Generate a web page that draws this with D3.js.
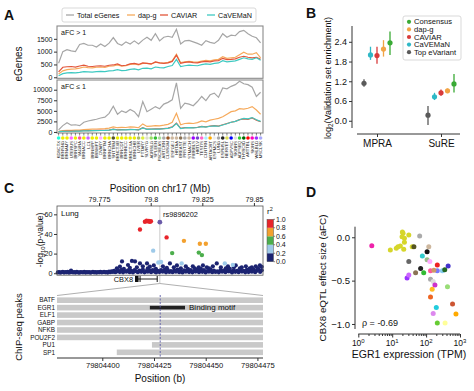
<!DOCTYPE html>
<html><head><meta charset="utf-8">
<script src="https://cdn.jsdelivr.net/npm/d3@7"></script>
<style>body{margin:0;background:#fff}</style>
</head><body>
<svg id="c" width="474" height="391"></svg>
<script>
// ---------------- DATA ----------------
// Panel A
const tissues = ["KDNCTX","BRNSNG","BRNAMY","UTERUS","BRNSPC","VAGINA","BRNACC","LCL","BRNHPP","BRNHPT","OVARY","BRNPTM","BRNCHA","SNTTRM","BRNCTXB","BRNCDT","BRNNCC","BRNCTXA","BRNCHB","LIVER","PTTARY","SLVRYG","ADRNLG","SPLEEN","PNCREAS","ARTCRN","CLNSGM","ESPGEJ","HRTAA","BREAST","PRSTTE","STMACH","FIBRBLS","HRTLV","TESTIS","CLNTRN","ARTAORT","ESPMCS","LUNG","ESPMSL","NERVET","ADPVSC","SKINNS","ADPSBQ","THYROID","ARTTBL","SKINS","WHLBLD","MSCLSK"];
const tissueColors = ["#22FFDD","#EEEE00","#EEEE00","#FF66FF","#EEEE00","#FF5599","#EEEE00","#CC66FF","#EEEE00","#EEEE00","#FFAAFF","#EEEE00","#EEEE00","#555522","#EEEE00","#EEEE00","#EEEE00","#EEEE00","#EEEE00","#AABB66","#DDEE44","#DDDDCC","#99DD66","#33BB33","#AADD99","#AAAAAA","#995522","#CDB79E","#CDB79E","#8B7355","#AAAAAA","#CDB79E","#9900FF","#7744CC","#FF66CC","#AAEEFF","#FFAA00","#EEEEEE","#AAAAAA","#222222","#DDDD55","#0000FF","#DDDDDD","#33CC33","#006600","#FF0000","#FF00BB","#9933FF","#AAAAFF"];
const seriesNames = ["Total eGenes","dap-g","CAVIAR","CaVEMaN"];
const topTicks = [0,500,1000,1500];
const botTicks = [0,2500,5000,7500,10000];
const totalTop = [550,1000,1080,1030,1000,1280,1320,1250,1250,1180,1300,1200,1330,1550,1320,1250,1380,1300,1420,1300,1450,1560,1440,1700,1420,1560,1600,1560,1870,1300,1420,1440,1380,1320,1250,1430,1360,1320,1440,1700,1560,1640,1620,1780,1830,1700,1600,1540,1340];
const dapTop = [130,250,300,320,330,360,400,380,370,390,400,390,430,440,480,430,450,500,520,480,540,540,510,590,560,550,580,640,900,570,600,620,600,590,630,660,640,680,700,800,740,760,780,880,980,900,900,960,760];
const capTop = [210,390,410,420,400,440,470,430,420,440,450,430,470,480,520,450,470,520,540,500,560,540,520,600,560,540,560,620,860,540,580,600,570,560,600,620,600,640,650,740,690,700,720,780,820,780,760,780,700];
const cavTop = [60,140,170,180,170,190,220,210,200,220,230,220,250,260,300,260,270,310,330,290,350,360,330,400,380,370,420,460,700,420,450,470,460,450,490,520,500,540,560,650,600,620,640,700,760,720,700,760,660];
const totalBot = [480,1500,2200,1600,1700,1500,2300,2600,2800,3000,3300,3500,4400,6100,4200,5000,4600,5300,4800,3600,7200,4800,5400,6000,5500,6600,7000,7600,11600,5600,6800,6600,6200,7200,8400,7400,8800,9200,8200,10400,10200,10800,11200,12000,11400,11200,10600,8400,9400];
const dapBot = [150,300,400,380,420,450,550,600,650,700,750,800,900,1200,1000,1100,1050,1200,1150,1000,1900,1300,1400,1500,1450,1600,1800,2300,4400,1700,2000,2100,2000,2200,2600,2400,2800,3000,3200,3600,4200,4800,5000,5500,5400,5600,6000,5200,4200];
const capBot = [80,150,200,190,210,230,280,300,330,350,380,400,450,650,500,550,520,600,580,500,1000,650,700,750,720,800,900,1200,2100,850,1000,1050,1000,1100,1300,1200,1400,1500,1400,1700,2000,2300,2500,2900,3100,3000,3300,2800,2400];
const cavBot = [60,120,170,160,180,200,240,270,300,320,340,360,420,600,460,500,480,560,540,460,950,600,650,700,680,760,860,1100,2000,800,950,1000,980,1050,1250,1150,1350,1450,1350,1650,1950,2300,2500,2900,3200,3100,3400,2900,2500];

// Panel B
const assays = ["MPRA","SuRE"];
const methods = ["Top eVariant","CaVEMaN","CAVIAR","dap-g","Consensus"];
const legendOrder = ["Consensus","dap-g","CAVIAR","CaVEMaN","Top eVariant"];
const bTicks = [0.0,0.6,1.2,1.8,2.4];
const mpraMean = [1.14,2.00,1.98,2.18,2.37];
const mpraLo   = [1.03,1.85,1.73,1.95,2.00];
const mpraHi   = [1.26,2.25,2.25,2.45,2.71];
const sureMean = [0.17,0.73,0.85,0.91,1.12];
const sureLo   = [-0.13,0.63,0.76,0.84,0.86];
const sureHi   = [0.45,0.85,0.95,0.98,1.42];

// Panel C (upper)
const mbTicks = [79.775,79.8,79.825,79.85];
const pTicks = [0,20,40,60];
const leadSNP = {id:"rs9896202", pos:79.804428, val:52};
const r2Breaks = [0.2,0.4,0.6,0.8];
const r2Labels = [1.0,0.8,0.6,0.4,0.2,0.0];
const navyPts = [
[79.7550,0.8],[79.7556,1.2],[79.7562,0.6],[79.7568,1.0],[79.7574,1.4],[79.7580,0.7],[79.7586,1.1],[79.7592,0.9],[79.7598,1.3],[79.7604,0.6],
[79.7610,1.0],[79.7614,2.6],[79.7618,1.2],[79.7624,0.8],[79.7630,1.1],[79.7636,0.7],[79.7642,1.3],[79.7648,0.9],[79.7654,0.6],[79.7660,1.2],
[79.7666,1.0],[79.7672,0.8],[79.7678,1.4],[79.7684,0.7],[79.7690,1.1],[79.7696,0.9],[79.7702,1.2],[79.7708,0.6],[79.7714,1.0],[79.7720,1.3],
[79.7726,0.8],[79.7732,1.1],[79.7738,0.7],[79.7744,1.2],[79.7750,0.9],[79.7756,1.4],[79.7762,0.8],[79.7768,1.0],[79.7774,1.5],[79.7780,0.9],
[79.7786,1.2],[79.7792,0.7],[79.7798,1.6],[79.7804,1.1],[79.7810,2.0],[79.7816,1.3],[79.7822,2.4],[79.7828,1.0],
[79.7834,1.5],[79.7842,2.8],[79.7850,1.2],[79.7858,3.5],[79.7866,0.9],[79.7874,2.2],[79.7882,1.6],[79.7890,3.0],[79.7898,1.1],[79.7906,2.5],
[79.7914,0.8],[79.7922,3.2],[79.7930,1.9],[79.7938,1.0],[79.7946,2.7],[79.7954,1.4],[79.7962,3.6],[79.7970,0.9],[79.7978,2.1],[79.7986,1.5],
[79.7994,2.9],[79.8002,1.0],[79.8010,3.3],[79.8018,1.7],[79.8026,0.8],[79.8034,2.4],[79.8042,1.2],[79.8050,3.1],[79.8058,1.6],[79.8066,2.6],
[79.8074,0.9],[79.8082,3.4],[79.8090,1.3],[79.8098,2.2],[79.8106,1.0],[79.8114,2.9],[79.8122,1.5],[79.8130,3.7],[79.8138,1.1],[79.8146,2.3],
[79.8154,0.8],[79.8162,3.0],[79.8170,1.6],[79.8178,2.5],[79.8186,1.2],[79.8194,3.3],[79.8202,0.9],[79.8210,2.1],[79.8218,1.7],[79.8226,3.5],
[79.8234,1.0],[79.8242,2.7],[79.8250,1.4],[79.8258,3.1],[79.8266,0.8],[79.8274,2.3],[79.8282,1.6],[79.8290,3.6],[79.8298,1.1],[79.8306,2.8],
[79.8314,1.3],[79.8322,2.0],[79.8330,0.9],[79.8338,3.2],[79.8346,1.5],[79.8354,2.6],[79.8362,1.0],[79.8370,3.4],[79.8378,1.8],[79.8386,2.2],
[79.8394,0.8],[79.8402,3.0],[79.8410,1.4],[79.8418,2.5],[79.8426,1.1],[79.8434,3.3],[79.8442,1.7],[79.8450,2.4],[79.8458,0.9],[79.8466,3.5],
[79.8474,1.2],[79.8482,2.9],[79.8490,1.6],[79.8498,3.8],[79.8506,1.0],[79.8514,2.6],[79.8522,4.2],[79.8530,1.3],[79.8538,3.0],
[79.7836,5],[79.7851,6.7],[79.7861,12],[79.7870,4.5],[79.7890,8.4],[79.7899,5.5],[79.7909,12.5],[79.7924,12],[79.7933,6],[79.7948,10],
[79.7962,7],[79.7982,10],[79.7986,5],[79.7996,6.7],[79.8015,8],[79.8025,4.5],[79.8059,7],[79.8069,4],[79.8078,5.5],[79.8093,10],
[79.8112,6],[79.8127,8],[79.8146,5],[79.8170,7],[79.8180,4.5],[79.8204,7],[79.8214,5],[79.8233,6],[79.8243,4.5],[79.8253,8],
[79.8272,6],[79.8282,5],[79.8301,7],[79.8320,10],[79.8340,6],[79.8364,5],[79.8374,7],[79.8383,4.5],[79.8403,6],[79.8412,8],
[79.8432,5],[79.8441,6],[79.8461,7],[79.8480,5],[79.8490,6],[79.8509,7],[79.8519,5],[79.8529,8],[79.8538,6.5]];
const ldPts = [
[79.8012,23,0.3],[79.8037,11,0.25],[79.8050,11.5,0.3],[79.8150,10,0.25],[79.8359,10,0.3],[79.8398,8.5,0.25],
[79.8104,20.5,0.5],[79.8233,21,0.45],[79.8248,18.5,0.5],
[79.8161,33,0.7],[79.8238,30,0.65],[79.8267,30,0.68],
[79.7948,44.5,0.85],[79.8077,36.5,0.82],
[79.7972,52.5,0.9],[79.7980,53.5,0.95],[79.7986,52.8,0.92],[79.7991,53.2,0.9],[79.7996,52.4,0.93],[79.8001,53.0,0.91]];
const gene = {name:"CBX8", start:79.7924, end:79.8032};
const geneExons = [[79.7924,79.7941],[79.7946,79.7950],[79.8029,79.8032]];

// Panel C (lower)
const tfs = ["BATF","EGR1","ELF1","GABP","NFKB","POU2F2","PU1","SP1"];
const peakStart = [79804300,79804300,79804300,79804300,79804300,79804300,79804424,79804407];
const peakEnd   = [79804600,79804600,79804600,79804600,79804600,79804600,79804600,79804600];
const motif = {tf:"EGR1", start:79804423, end:79804440, label:"Binding motif"};
const bpTicks = [79804400,79804425,79804450,79804475];
const snpBp = 79804428;

// Panel D
const dTPM = [2.5,8.8,13.2,14.8,20.9,19.5,22.9,30.9,22.9,21.9,17.4,38.9,43.7,64.6,20.0,30.9,27.5,30.9,49,69,77.6,85,107,107,120,129,135,135,162,182,151,135,214,214,302,355,447,427,200,162,214,759,603,363,170];
const dAFC = [-0.097,-0.146,-0.127,-0.108,0.046,0.007,-0.012,0.027,-0.058,-0.138,-0.10,-0.108,-0.108,0.015,0.06,-0.28,-0.47,-0.435,-0.41,-0.36,-0.215,-0.41,-0.26,-0.166,-0.108,-0.28,-0.385,-0.485,-0.51,-0.55,-0.60,-0.69,-0.32,-0.385,-0.385,-0.375,-0.33,-0.57,-0.81,-0.88,-0.99,-0.885,-0.77,-0.99,-0.38];
const dColors = ["#EE22AA","#D6D62A","#D6D62A","#D6D62A","#D6D62A","#D6D62A","#D6D62A","#D6D62A","#D6D62A","#D6D62A","#D6D62A","#D6D62A","#555522","#AAAAAA","#D6D62A","#666666","#9933FF","#CC66FF","#8B7355","#222222","#33CCCC","#33BB33","#99BB88","#111111","#CDB79E","#FFAAFF","#FF5599","#AAAAAA","#DDDDDD","#CC33CC","#FFBB22","#EE6622","#EE2222","#7777FF","#88CCEE","#226622","#4433CC","#99DD77","#22CCDD","#DD88EE","#66CC33","#FFAA00","#CC5533","#FFFF99","#CC9966"];
const dXTicks = [1,10,100,1000];
const dYTicks = [0.0,-0.5,-1.0];
const rho = "-0.69";

// ---------------- DRAW ----------------
const F = '"Liberation Sans", Arial, Helvetica, sans-serif';
const svg = d3.select("#c").attr("font-family", F);
function label(x,y,s,size,o={}){
  const t = svg.append("text").attr("x",x).attr("y",y).attr("font-size",size).attr("fill",o.fill||"#111").text(s);
  if(o.anchor) t.attr("text-anchor",o.anchor);
  if(o.weight) t.attr("font-weight",o.weight);
  if(o.rot!==undefined) t.attr("transform",`rotate(${o.rot},${x},${y})`);
  if(o.dy) t.attr("dy",o.dy);
  return t;
}
function styleAxis(g,size){
  g.attr("font-family",F).attr("font-size",size);
  g.selectAll("line").attr("stroke","#333");
  g.selectAll("text").attr("fill","#111");
}

// Panel labels
label(4,20,"A",14,{weight:"bold"});
label(306,18,"B",14,{weight:"bold"});
label(4,193,"C",14,{weight:"bold"});
label(306,197,"D",14,{weight:"bold"});

// ===== Panel A =====
const xA = d3.scaleLinear().domain([0,tissues.length-1]).range([58.6,260.6]);
const yTop = d3.scaleLinear().domain([-40,2000]).range([78.3,26]);
const yBot = d3.scaleLinear().domain([-250,12300]).range([133,80]);
const sColors = ["#a6a6a6","#f6aa5c","#e2553a","#3ec9c1"];
const topSeries = [totalTop,dapTop,capTop,cavTop];
const botSeries = [totalBot,dapBot,capBot,cavBot];
[[yTop,topSeries,26,52.3,topTicks,"aFC > 1"],[yBot,botSeries,80,53,botTicks,"aFC \u2264 1"]].forEach(([ys,ser,y0,h,tk,lab])=>{
  ser.forEach((arr,k)=>{
    svg.append("path").datum(arr)
      .attr("d",d3.line().x((d,i)=>xA(i)).y(d=>ys(d)))
      .attr("fill","none").attr("stroke",sColors[k]).attr("stroke-width",1.2);
  });
  svg.append("rect").attr("x",57).attr("y",y0).attr("width",206).attr("height",h)
    .attr("fill","none").attr("stroke","#8a8a8a").attr("stroke-width",1.1);
  const g = svg.append("g").attr("transform","translate(57,0)")
    .call(d3.axisLeft(ys).tickValues(tk).tickSize(3).tickPadding(1.5).tickFormat(d3.format("d")));
  g.select(".domain").remove();
  styleAxis(g,7);
  label(61,y0+9,lab,7);
});
label(22,64,"eGenes",10,{anchor:"middle",rot:-90});
// tissue ticks, dots, labels
tissues.forEach((t,i)=>{
  svg.append("line").attr("x1",xA(i)).attr("x2",xA(i)).attr("y1",133).attr("y2",135.5).attr("stroke","#333").attr("stroke-width",0.6);
  svg.append("circle").attr("cx",xA(i)).attr("cy",138).attr("r",1.8).attr("fill",tissueColors[i]);
  label(xA(i),141,t,4.2,{anchor:"end",rot:-90,dy:"0.35em",fill:"#222"});
});
// legend A
svg.append("rect").attr("x",62).attr("y",8).attr("width",194).attr("height",14).attr("rx",2)
  .attr("fill","#fff").attr("stroke","#cfcfcf").attr("stroke-width",0.8);
const legX = [66,127,160,207];
seriesNames.forEach((s,k)=>{
  svg.append("line").attr("x1",legX[k]).attr("x2",legX[k]+8).attr("y1",15).attr("y2",15).attr("stroke",sColors[k]).attr("stroke-width",1.3);
  label(legX[k]+11,17.6,s,7.2);
});

// ===== Panel B =====
const yB = d3.scaleLinear().domain([-0.22,2.88]).range([128,26]);
const xB = d3.scalePoint().domain(assays).range([377,441]);
const mColors = {"Consensus":"#3aaa35","dap-g":"#f2a444","CAVIAR":"#d83b3b","CaVEMaN":"#2fb8c6","Top eVariant":"#5a5a5a"};
const offs = [-13,-6.5,0,6.5,13];
const gBy = svg.append("g").attr("transform","translate(352,0)")
  .call(d3.axisLeft(yB).tickValues(bTicks).tickSize(3).tickPadding(2).tickFormat(d3.format(".1f")));
gBy.select(".domain").attr("d","M0,26V128").attr("stroke","#333");
styleAxis(gBy,9);
const gBx = svg.append("g").attr("transform","translate(0,134)")
  .call(d3.axisBottom(xB).tickSize(3).tickPadding(3));
gBx.select(".domain").attr("d","M357,0H460").attr("stroke","#333");
styleAxis(gBx,10);
[[mpraMean,mpraLo,mpraHi],[sureMean,sureLo,sureHi]].forEach(([m,lo,hi],a)=>{
  methods.forEach((mt,k)=>{
    const x = xB(assays[a])+offs[k];
    svg.append("line").attr("x1",x).attr("x2",x).attr("y1",yB(lo[k])).attr("y2",yB(hi[k])).attr("stroke",mColors[mt]).attr("stroke-width",1.3);
    svg.append("circle").attr("cx",x).attr("cy",yB(m[k])).attr("r",2.6).attr("fill",mColors[mt]);
  });
});
const byl = svg.append("text").attr("font-size",9).attr("fill","#111").attr("text-anchor","middle")
  .attr("transform","translate(331,78) rotate(-90)");
byl.append("tspan").text("log");
byl.append("tspan").attr("font-size",6.5).attr("dy",2).text("2");
byl.append("tspan").attr("dy",-2).text("(Validation set enrichment)");
svg.append("rect").attr("x",403).attr("y",16).attr("width",58).attr("height",44).attr("rx",2)
  .attr("fill","#fff").attr("stroke","#cfcfcf").attr("stroke-width",0.8);
legendOrder.forEach((s,k)=>{
  const y = 21.8+k*7.6;
  svg.append("circle").attr("cx",409).attr("cy",y).attr("r",2.1).attr("fill",mColors[s]);
  label(414,y+2.6,s,7.6);
});

// ===== Panel C upper =====
const xC = d3.scaleLinear().domain([79.7546,79.8544]).range([57,263]);
const yC = d3.scaleLinear().domain([-2,68.5]).range([275.2,206]);
const r2Col = d3.scaleThreshold().domain(r2Breaks).range(["#1c2472","#9ecae9","#4cae4c","#f3a12f","#e8242a"]);
svg.append("line").attr("x1",xC(leadSNP.pos)).attr("x2",xC(leadSNP.pos)).attr("y1",206).attr("y2",283).attr("stroke","#c4c4c4").attr("stroke-width",0.9);
navyPts.forEach(d=>svg.append("circle").attr("cx",xC(d[0])).attr("cy",yC(d[1])).attr("r",2.1).attr("fill",r2Col(0)));
ldPts.forEach(d=>svg.append("circle").attr("cx",xC(d[0])).attr("cy",yC(d[1])).attr("r",2.2).attr("fill",r2Col(d[2])));
svg.append("circle").attr("cx",xC(leadSNP.pos)).attr("cy",yC(leadSNP.val)).attr("r",2.4).attr("fill","#6a5aa8");
svg.append("rect").attr("x",57).attr("y",206).attr("width",206).attr("height",69.2).attr("fill","none").attr("stroke","#555").attr("stroke-width",0.8);
const gCt = svg.append("g").attr("transform","translate(0,206)")
  .call(d3.axisTop(xC).tickValues(mbTicks).tickSize(3).tickPadding(1.5).tickFormat(d=>String(d)));
gCt.select(".domain").remove(); styleAxis(gCt,7.2);
const gCy = svg.append("g").attr("transform","translate(57,0)")
  .call(d3.axisLeft(yC).tickValues(pTicks).tickSize(3).tickPadding(1.5));
gCy.select(".domain").remove(); styleAxis(gCy,7.2);
label(160,191.5,"Position on chr17 (Mb)",10,{anchor:"middle"});
label(61,216,"Lung",8);
label(163,217,leadSNP.id,7.4);
const cyl = svg.append("text").attr("font-size",8.5).attr("fill","#111").attr("text-anchor","middle")
  .attr("transform","translate(43,240) rotate(-90)");
cyl.append("tspan").text("-log");
cyl.append("tspan").attr("font-size",6).attr("dy",2).text("10");
cyl.append("tspan").attr("dy",-2).text("(p-value)");
// colorbar
const cbY = d3.scaleLinear().domain([0,1]).range([261.7,219.3]);
[0,0.2,0.4,0.6,0.8].forEach(v=>{
  svg.append("rect").attr("x",267).attr("y",cbY(v+0.2)).attr("width",6.5).attr("height",cbY(v)-cbY(v+0.2)).attr("fill",r2Col(v+0.1));
});
svg.append("rect").attr("x",267).attr("y",219.3).attr("width",6.5).attr("height",42.4).attr("fill","none").attr("stroke","#555").attr("stroke-width",0.5);
r2Labels.forEach(v=>{
  svg.append("line").attr("x1",273.5).attr("x2",275).attr("y1",cbY(v)).attr("y2",cbY(v)).attr("stroke","#333").attr("stroke-width",0.6);
  label(276,cbY(v)+2.4,v.toFixed(1),7);
});
const r2t = svg.append("text").attr("x",267).attr("y",214).attr("font-size",8).attr("fill","#111");
r2t.append("tspan").text("r");
r2t.append("tspan").attr("font-size",5.5).attr("dy",-3).text("2");
// gene
label(133,281.5,gene.name,7.4,{anchor:"end"});
svg.append("line").attr("x1",xC(gene.start)).attr("x2",xC(gene.end)).attr("y1",279).attr("y2",279).attr("stroke","#111").attr("stroke-width",0.9);
geneExons.forEach(e=>{
  svg.append("rect").attr("x",xC(e[0])).attr("y",276).attr("width",Math.max(1,xC(e[1])-xC(e[0]))).attr("height",6).attr("fill","#111");
});
// zoom lines
svg.append("path").attr("d",`M57,295.5L${xC(leadSNP.pos)},283.5L263,295.5`).attr("fill","none").attr("stroke","#b0b0b0").attr("stroke-width",1);

// ===== Panel C lower =====
const xL = d3.scaleLinear().domain([79804378.1,79804477.7]).range([57,263]).clamp(true);
const yL = d3.scaleBand().domain(tfs).range([296.5,356]).paddingInner(0.25).paddingOuter(0.12);
tfs.forEach((t,i)=>{
  svg.append("rect").attr("x",xL(peakStart[i])).attr("y",yL(t)).attr("width",xL(peakEnd[i])-xL(peakStart[i])).attr("height",yL.bandwidth()).attr("fill","#c9c9c9");
  label(55,yL(t)+yL.bandwidth()/2+2.2,t,6.4,{anchor:"end"});
});
svg.append("rect").attr("x",xL(motif.start)).attr("y",yL(motif.tf)+yL.bandwidth()/2-1.8).attr("width",xL(motif.end)-xL(motif.start)).attr("height",3.6).attr("fill","#222");
label(xL(motif.end)+4,yL(motif.tf)+yL.bandwidth()/2+2.8,motif.label,8);
svg.append("line").attr("x1",xL(snpBp)).attr("x2",xL(snpBp)).attr("y1",295).attr("y2",357).attr("stroke","#5c5ca8").attr("stroke-width",0.9).attr("stroke-dasharray","2,1.5");
const gLx = svg.append("g").attr("transform","translate(0,358)")
  .call(d3.axisBottom(xL).tickValues(bpTicks).tickSize(3).tickPadding(2).tickFormat(d3.format("d")));
gLx.select(".domain").attr("d","M57,0H263").attr("stroke","#333");
styleAxis(gLx,7.6);
label(160,382,"Position (b)",10,{anchor:"middle"});
label(22,327,"ChIP-seq peaks",9.5,{anchor:"middle",rot:-90});

// ===== Panel D =====
const xD = d3.scaleLog().domain([1,1000]).range([358.3,460]);
const yD = d3.scaleLinear().domain([-1.058,0.122]).range([329,226.7]);
const gDy = svg.append("g").attr("transform","translate(355,0)")
  .call(d3.axisLeft(yD).tickValues(dYTicks).tickSize(3).tickPadding(2).tickFormat(d3.format(".1f")));
gDy.select(".domain").attr("d","M0,226.7V329").attr("stroke","#333");
styleAxis(gDy,9.5);
const minor = [];
[1,10,100].forEach(b=>[2,3,4,5,6,7,8,9].forEach(m=>minor.push(b*m)));
const gDm = svg.append("g").attr("transform","translate(0,334)")
  .call(d3.axisBottom(xD).tickValues(minor).tickSize(2).tickFormat(""));
gDm.select(".domain").remove(); styleAxis(gDm,8);
const gDx = svg.append("g").attr("transform","translate(0,334)")
  .call(d3.axisBottom(xD).tickValues(dXTicks).tickSize(3.5).tickPadding(2).tickFormat(""));
gDx.select(".domain").attr("d","M358.3,0H460").attr("stroke","#333");
styleAxis(gDx,8);
dXTicks.forEach(v=>{
  const t = svg.append("text").attr("x",xD(v)).attr("y",346).attr("font-size",8.5).attr("fill","#111").attr("text-anchor","middle");
  t.append("tspan").text("10");
  t.append("tspan").attr("font-size",6).attr("dy",-3.5).text(String(Math.round(Math.log10(v))));
});
dTPM.forEach((v,i)=>{
  svg.append("circle").attr("cx",xD(v)).attr("cy",yD(dAFC[i])).attr("r",2.5).attr("fill",dColors[i]);
});
label(409,358,"EGR1 expression (TPM)",10.5,{anchor:"middle"});
label(326,278,"CBX8 eQTL effect size (aFC)",9.8,{anchor:"middle",rot:-90});
label(362,326,"\u03c1 = "+rho,9);
</script>
</body></html>
